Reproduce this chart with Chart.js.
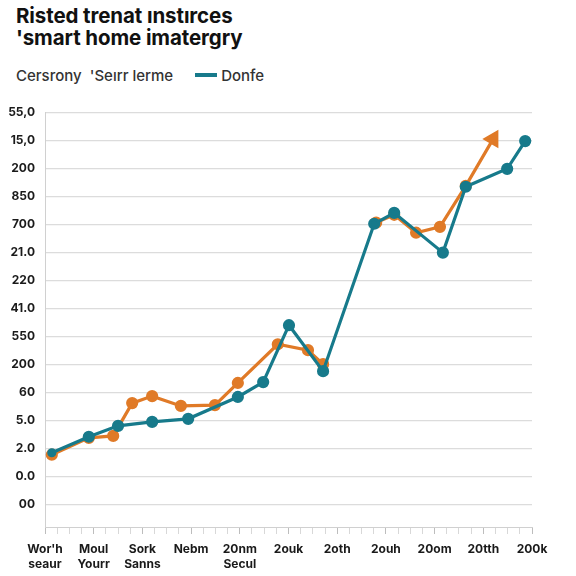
<!DOCTYPE html>
<html>
<head>
<meta charset="utf-8">
<script src="https://cdn.jsdelivr.net/npm/chart.js@4.4.1/dist/chart.umd.min.js"></script>
<style>
  body { margin: 0; background: #fff; font-family: Inter, "Open Sans", sans-serif; }
  #head { position: absolute; left: 16px; top: 5px; color: #111; }
  #title { font-size: 20.5px; font-weight: 700; line-height: 22px; letter-spacing: -0.1px; }
  #legend { position: absolute; left: 16px; top: 66px; font-size: 15px; font-weight: 500; color: #333; white-space: nowrap; }
  #legend .sw { display: inline-block; width: 22px; height: 4px; background: #177a8b; vertical-align: middle; margin: 0 4px 3px 22px; }
  #wrap { position: absolute; left: 0; top: 95px; width: 576px; height: 481px; }
</style>
</head>
<body>
<div id="head"><div id="title">Risted trenat ınstırces<br>'smart home imatergry</div></div>
<div id="legend">Cersrony &nbsp;'Seırr lerme<span class="sw"></span>Donfe</div>
<div id="wrap"><canvas id="chart" width="576" height="481"></canvas></div>
<script>
// axis labels (bottom to top for y)
const yLabels = ["00", "0.0", "2.0", "5.0", "60", "200", "550", "41.0", "220", "21.0", "700", "850", "200", "15,0", "55,0"];
const xLabels = [["Wor'h", "seaur"], ["Moul", "Yourr"], ["Sork", "Sanns"], "Nebm", ["20nm", "Secul"], "2ouk", "2oth", "2ouh", "20om", "20tth", "200k"];

// teal series
const tealX = [0.14, 0.90, 1.50, 2.20, 2.94, 3.96, 4.48, 5.01, 5.71, 6.76, 7.17, 8.17, 8.64, 9.49, 9.86];
const tealY = [1.85, 2.42, 2.81, 2.95, 3.06, 3.84, 4.37, 6.40, 4.76, 10.02, 10.41, 8.99, 11.34, 11.98, 12.97];

// orange series (gap where it hides behind teal)
const orangeX = [0.14, 0.90, 1.40, 1.79, 2.20, 2.79, 3.49, 3.96, 4.78, 5.40, 5.71, 6.20, 6.80, 7.17, 7.62, 8.11, 8.64, 9.20];
const orangeY = [1.78, 2.38, 2.45, 3.62, 3.87, 3.52, 3.55, 4.34, 5.72, 5.51, 5.01, null, 10.06, 10.34, 9.70, 9.91, 11.37, 13.04];

const teal = "#177a8b";
const orange = "#e07a27";

const toPoints = (xs, ys) => xs.map((x, i) => ({ x: x, y: ys[i] }));
const lastIdx = orangeX.length - 1;

new Chart(document.getElementById("chart").getContext("2d"), {
    type: "line",
    data: {
        datasets: [{
            label: "Donfe",
            data: toPoints(tealX, tealY),
            borderColor: teal,
            backgroundColor: teal,
            borderWidth: 3.2,
            pointRadius: ctx => ctx.dataIndex === 0 ? 3 : 4.5,
            pointHoverRadius: 4.5,
            tension: 0
        }, {
            label: "Cersrony 'Seırr lerme",
            data: toPoints(orangeX, orangeY),
            borderColor: orange,
            backgroundColor: orange,
            borderWidth: 3.2,
            spanGaps: false,
            pointStyle: ctx => ctx.dataIndex === lastIdx ? "triangle" : "circle",
            pointRotation: ctx => ctx.dataIndex === lastIdx ? 30 : 0,
            pointRadius: ctx => ctx.dataIndex === lastIdx ? 7.5 : 4.5,
            pointHoverRadius: 4.5,
            tension: 0
        }]
    },
    options: {
        responsive: false,
        animation: false,
        events: [],
        layout: { padding: { top: 16, right: 44, left: 0, bottom: 0 } },
        plugins: { legend: { display: false }, title: { display: false }, tooltip: { enabled: false } },
        scales: {
            x: {
                type: "linear",
                min: 0,
                max: 10,
                afterFit: scale => { scale.height = 49; },
                afterBuildTicks: scale => {
                    const t = [];
                    for (let v = 0; v <= 40; v++) t.push({ value: v / 4 });
                    scale.ticks = t;
                },
                grid: {
                    drawOnChartArea: false,
                    drawTicks: true,
                    tickLength: 7,
                    tickColor: ctx => Number.isInteger(ctx.tick.value) ? "#bdbdbd" : "#d8d8d8",
                    tickWidth: 1
                },
                border: { display: true, color: "#d0d0d0", width: 1 },
                ticks: {
                    autoSkip: false,
                    maxRotation: 0,
                    padding: 8,
                    color: "#1a1a1a",
                    font: { family: "Inter", size: 12, weight: "bold", lineHeight: 1.25 },
                    callback: v => Number.isInteger(v) ? xLabels[v] : ""
                }
            },
            y: {
                type: "linear",
                min: -0.8,
                max: 14,
                afterFit: scale => { scale.width = 45; },
                afterBuildTicks: scale => {
                    scale.ticks = yLabels.map((_, i) => ({ value: i }));
                },
                grid: { color: "#dcdcdc", lineWidth: 1.2, drawTicks: false },
                border: { display: true, color: "#d0d0d0", width: 1 },
                ticks: {
                    padding: 10,
                    color: "#1a1a1a",
                    font: { family: "Inter", size: 12, weight: "bold" },
                    callback: v => yLabels[v]
                }
            }
        }
    }
});
</script>
</body>
</html>
